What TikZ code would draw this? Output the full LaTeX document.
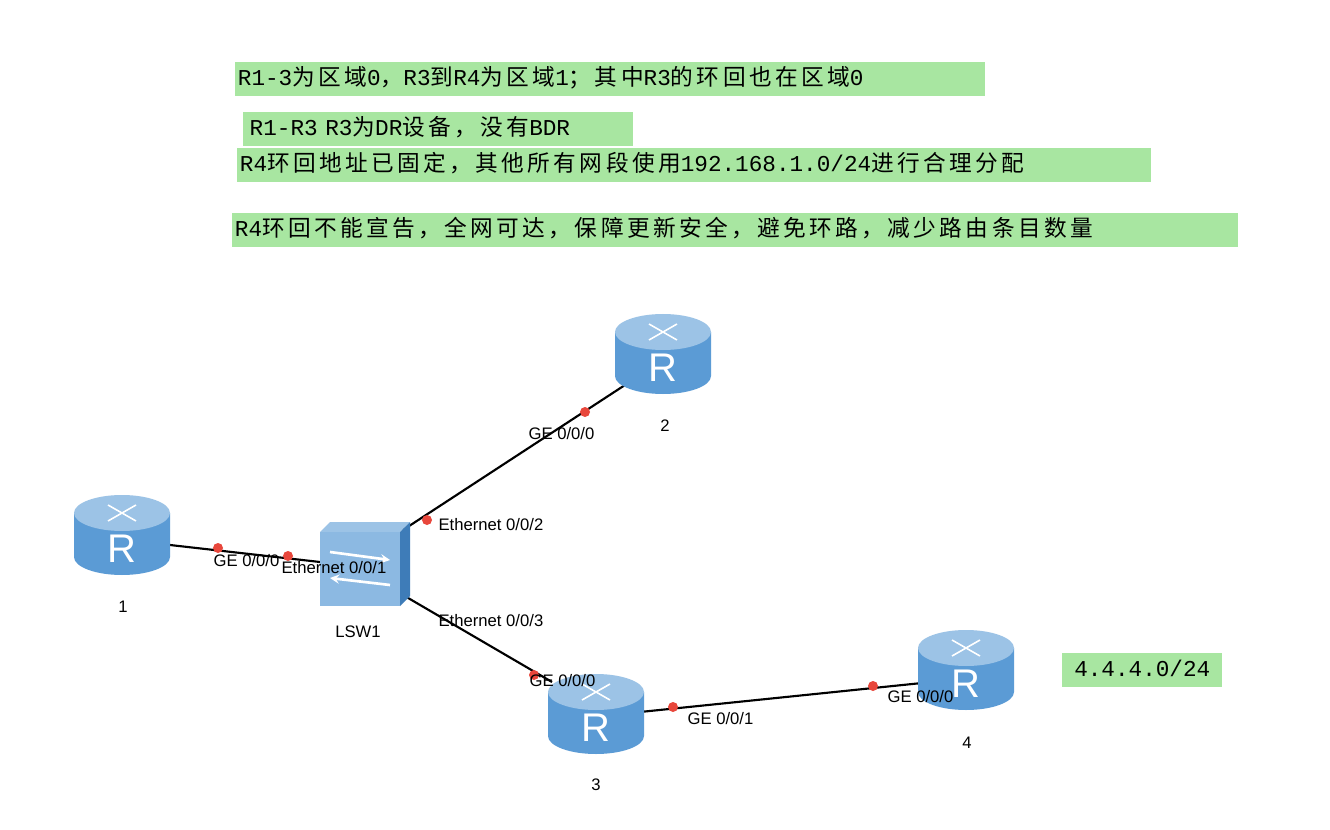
\documentclass[tikz,border=0pt]{standalone}
\usepackage{fontspec}
\setmainfont{Liberation Sans}
\setmonofont{Liberation Mono}
\newfontfamily\cjk[LetterSpace=15]{Noto Sans CJK SC}
\newcommand{\C}[1]{{\cjk #1}}
\usetikzlibrary{calc}
\definecolor{hl}{HTML}{A8E6A1}
\definecolor{rtop}{HTML}{9CC3E6}
\definecolor{rbody}{HTML}{5B9BD5}
\definecolor{rdark}{HTML}{3E7CB8}
\definecolor{dotred}{HTML}{E8473C}
\newcommand{\myrouter}[2]{%
  \node[inner sep=0,minimum width=72pt,minimum height=64pt] (#1) at #2 {};
  \fill[rbody] ($(#1)+(-48,-20)$) -- ($(#1)+(-48,24)$) arc[start angle=180,end angle=0,x radius=48,y radius=18] -- ($(#1)+(48,-20)$) -- cycle;
  \fill[rtop] ($(#1)+(0,-20)$) ellipse[x radius=48,y radius=18];
  \draw[white,line width=1.2pt] ($(#1)+(-14,-28)$) -- ($(#1)+(14,-12)$) ($(#1)+(-14,-12)$) -- ($(#1)+(14,-28)$);
  \node[white,font=\fontsize{30}{30}\selectfont] at ($(#1)+(0,16)$) {R};
}
\begin{document}
\begin{tikzpicture}[x=0.75pt,y=-0.75pt,
  box/.style={fill=hl,anchor=north west,inner xsep=2pt,inner ysep=0pt,minimum height=25.5pt,text height=15pt,text depth=5pt,font=\ttfamily\fontsize{17}{20}\selectfont,align=left},
  lbl/.style={font=\fontsize{12.5}{14}\selectfont,inner sep=1pt},
  link/.style={line width=1.6pt,black},
  pdot/.style={circle,fill=dotred,inner sep=0,minimum size=7.5pt}]
\useasboundingbox[fill=white] (0,0) rectangle (1330,830);
% text boxes
\node[box,text width=558pt] (t1) at (235,62) {R1-3\C{为区域}0\C{，}R3\C{到}R4\C{为区域}1\C{；其中}R3\C{的环回也在区域}0};
\node[box,text width=288pt] (t2) at (243,112) {\,R1-R3 R3\C{为}DR\C{设备，没有}BDR};
\node[box,text width=681pt] (t3) at (237,148) {R4\C{环回地址已固定，其他所有网段使用}192.168.1.0/24\C{进行合理分配}};
\node[box,text width=750pt] (t4) at (232,213) {R4\C{环回不能宣告，全网可达，保障更新安全，避免环路，减少路由条目数量}};
\node[box,text width=116pt,align=center] (t5) at (1062,653) {4.4.4.0/24};
% links
\coordinate (r1p) at (170,545);
\coordinate (swl) at (320,562);
\coordinate (swa) at (403,530);
\coordinate (swb) at (403,595);
\coordinate (r2p) at (625,385);
\coordinate (r3a) at (552,682);
\coordinate (r3b) at (640,712);
\coordinate (r4p) at (922,683);
\draw[link] (r1p) -- (swl);
\draw[link] (swa) -- (r2p);
\draw[link] (swb) -- (r3a);
\draw[link] (r3b) -- (r4p);
% routers
\myrouter{R1}{(122,533)}
\myrouter{R2}{(663,352)}
\myrouter{R3}{(596,712)}
\myrouter{R4}{(966,668)}
% switch
\fill[rtop] (320,532) -- (330,522) -- (410,522) -- (400,532) -- cycle;
\fill[rdark] (400,532) -- (410,522) -- (410,596) -- (400,606) -- cycle;
\node[fill=rbody!70!white,inner sep=0,minimum width=60pt,minimum height=55.5pt,anchor=north west] (SW) at (320,532) {};
\draw[white,line width=2pt,-stealth] (330,552) -- (390,560);
\draw[white,line width=2pt,-stealth] (390,585) -- (330,578);
% dots
\node[pdot] (d1) at (218,548) {};
\node[pdot] (d2) at (288,556) {};
\node[pdot] (d3) at (427,520) {};
\node[pdot] (d4) at (585,412) {};
\node[pdot] (d5) at (534,675) {};
\node[pdot] (d6) at (673,707) {};
\node[pdot] (d7) at (873,686) {};
% labels
\node[lbl,anchor=west] (l1) at (212,561) {GE 0/0/0};
\node[lbl,anchor=west] (l2) at (280,568) {Ethernet 0/0/1};
\node[lbl,anchor=west] (l3) at (527,434) {GE 0/0/0};
\node[lbl] (n2) at (665,426) {2};
\node[lbl,anchor=west] (l4) at (437,525) {Ethernet 0/0/2};
\node[lbl,anchor=west] (l5) at (437,621) {Ethernet 0/0/3};
\node[lbl,anchor=west] (l6) at (528,681) {GE 0/0/0};
\node[lbl,anchor=west] (l7) at (686,719) {GE 0/0/1};
\node[lbl,anchor=west] (l8) at (886,697) {GE 0/0/0};
\node[lbl] (n4) at (967,743) {4};
\node[lbl] (n3) at (596,785) {3};
\node[lbl] (n1) at (123,607) {1};
\node[lbl] (nsw) at (358,632) {LSW1};
\end{tikzpicture}
\end{document}
